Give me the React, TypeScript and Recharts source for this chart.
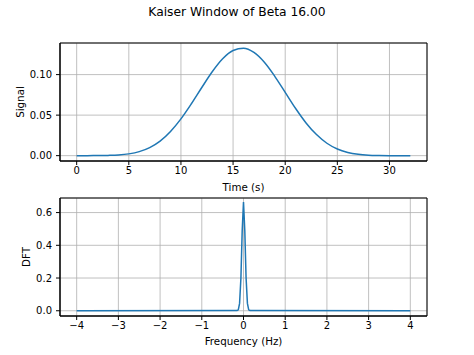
import { LineChart, Line, XAxis, YAxis, CartesianGrid, ReferenceArea, Label } from 'recharts';

const timeS = [
  0, 1, 2, 3, 4, 5, 6, 7, 8, 9, 10, 11, 12, 13, 14, 15, 16,
  17, 18, 19, 20, 21, 22, 23, 24, 25, 26, 27, 28, 29, 30, 31, 32,
];
const signal = [
  0.0, 0.0, 0.0001, 0.0003, 0.0008, 0.0022, 0.005, 0.01, 0.018, 0.0299, 0.0454,
  0.064, 0.0841, 0.1035, 0.1195, 0.1297, 0.1325, 0.1273, 0.1152, 0.0979, 0.0781,
  0.0582, 0.0404, 0.026, 0.0153, 0.0082, 0.004, 0.0017, 0.0006, 0.0002, 0.0, 0.0, 0.0,
];

const freqHz = [-4, -0.156, -0.125, -0.094, -0.062, -0.031, 0, 0.031, 0.062, 0.094, 0.125, 0.156, 4];
const dft = [0.0, 0.001, 0.006, 0.045, 0.2, 0.49, 0.665, 0.49, 0.2, 0.045, 0.006, 0.001, 0.0];

const timeTicks = [0, 5, 10, 15, 20, 25, 30];
const signalTicks = [0, 0.05, 0.1];
const freqTicks = [-4, -3, -2, -1, 0, 1, 2, 3, 4];
const dftTicks = [0, 0.2, 0.4, 0.6];

const timeData = timeS.map((t, i) => ({ t, v: signal[i] }));
const freqData = freqHz.map((f, i) => ({ f, v: dft[i] }));

const FONT = '"DejaVu Sans", sans-serif';
const tickStyle = { fill: '#000', fontSize: 10, fontFamily: FONT };
const labelStyle = { fill: '#000', fontSize: 10.3, fontFamily: FONT };
const BLUE = '#1f77b4';

const timeDomain: [number, number] = [-1.6, 33.6];
const signalDomain: [number, number] = [-0.0066, 0.139];
const freqDomain: [number, number] = [-4.4, 4.4];
const dftDomain: [number, number] = [-0.032, 0.689];

const minus = (v: number) => (v < 0 ? '\u2212' + Math.abs(v) : String(v));

export default function App() {
  return (
    <div style={{ position: 'absolute', left: 0, top: 0, width: 474, height: 355, background: '#fff' }}>
      <div
        style={{
          position: 'absolute', left: 0, top: 0, width: 474, height: 24, lineHeight: '24px',
          textAlign: 'center', fontFamily: FONT, fontSize: 12.3, color: '#000',
        }}
      >
        Kaiser Window of Beta 16.00
      </div>

      <div style={{ position: 'absolute', left: 0, top: 0 }}>
        <LineChart width={474} height={200} data={timeData} margin={{ top: 43, right: 47, bottom: 9, left: 0 }}>
          <CartesianGrid stroke="#b0b0b0" strokeWidth={0.8} />
          <XAxis
            type="number" dataKey="t" domain={timeDomain} ticks={timeTicks} allowDataOverflow interval={0}
            height={30} tickSize={4} tickMargin={2} tick={tickStyle}
            tickLine={{ stroke: '#000' }} axisLine={{ stroke: '#000' }}
          >
            <Label value="Time (s)" position="insideBottom" offset={0} style={labelStyle} />
          </XAxis>
          <YAxis
            type="number" domain={signalDomain} ticks={signalTicks} allowDataOverflow interval={0}
            width={60} tickSize={4} tickMargin={4} tick={tickStyle}
            tickFormatter={(v: number) => v.toFixed(2)}
            tickLine={{ stroke: '#000' }} axisLine={{ stroke: '#000' }}
          >
            <Label value="Signal" angle={-90} position="insideLeft" offset={20} style={{ ...labelStyle, textAnchor: 'middle' }} />
          </YAxis>
          <ReferenceArea
            x1={timeDomain[0]} x2={timeDomain[1]} y1={signalDomain[0]} y2={signalDomain[1]}
            fill="none" fillOpacity={0} stroke="#000" strokeOpacity={1}
          />
          <Line type="monotone" dataKey="v" stroke={BLUE} strokeWidth={1.5} dot={false} isAnimationActive={false} />
        </LineChart>
      </div>

      <div style={{ position: 'absolute', left: 0, top: 178 }}>
        <LineChart width={474} height={177} data={freqData} margin={{ top: 20, right: 47, bottom: 10, left: 0 }}>
          <CartesianGrid stroke="#b0b0b0" strokeWidth={0.8} />
          <XAxis
            type="number" dataKey="f" domain={freqDomain} ticks={freqTicks} allowDataOverflow interval={0}
            height={29} tickSize={4} tickMargin={2} tick={tickStyle} tickFormatter={minus}
            tickLine={{ stroke: '#000' }} axisLine={{ stroke: '#000' }}
          >
            <Label value="Frequency (Hz)" position="insideBottom" offset={0} style={labelStyle} />
          </XAxis>
          <YAxis
            type="number" domain={dftDomain} ticks={dftTicks} allowDataOverflow interval={0}
            width={60} tickSize={4} tickMargin={4} tick={tickStyle}
            tickFormatter={(v: number) => v.toFixed(1)}
            tickLine={{ stroke: '#000' }} axisLine={{ stroke: '#000' }}
          >
            <Label value="DFT" angle={-90} position="insideLeft" offset={26} style={{ ...labelStyle, textAnchor: 'middle' }} />
          </YAxis>
          <ReferenceArea
            x1={freqDomain[0]} x2={freqDomain[1]} y1={dftDomain[0]} y2={dftDomain[1]}
            fill="none" fillOpacity={0} stroke="#000" strokeOpacity={1}
          />
          <Line type="linear" dataKey="v" stroke={BLUE} strokeWidth={1.5} dot={false} isAnimationActive={false} />
        </LineChart>
      </div>
    </div>
  );
}
